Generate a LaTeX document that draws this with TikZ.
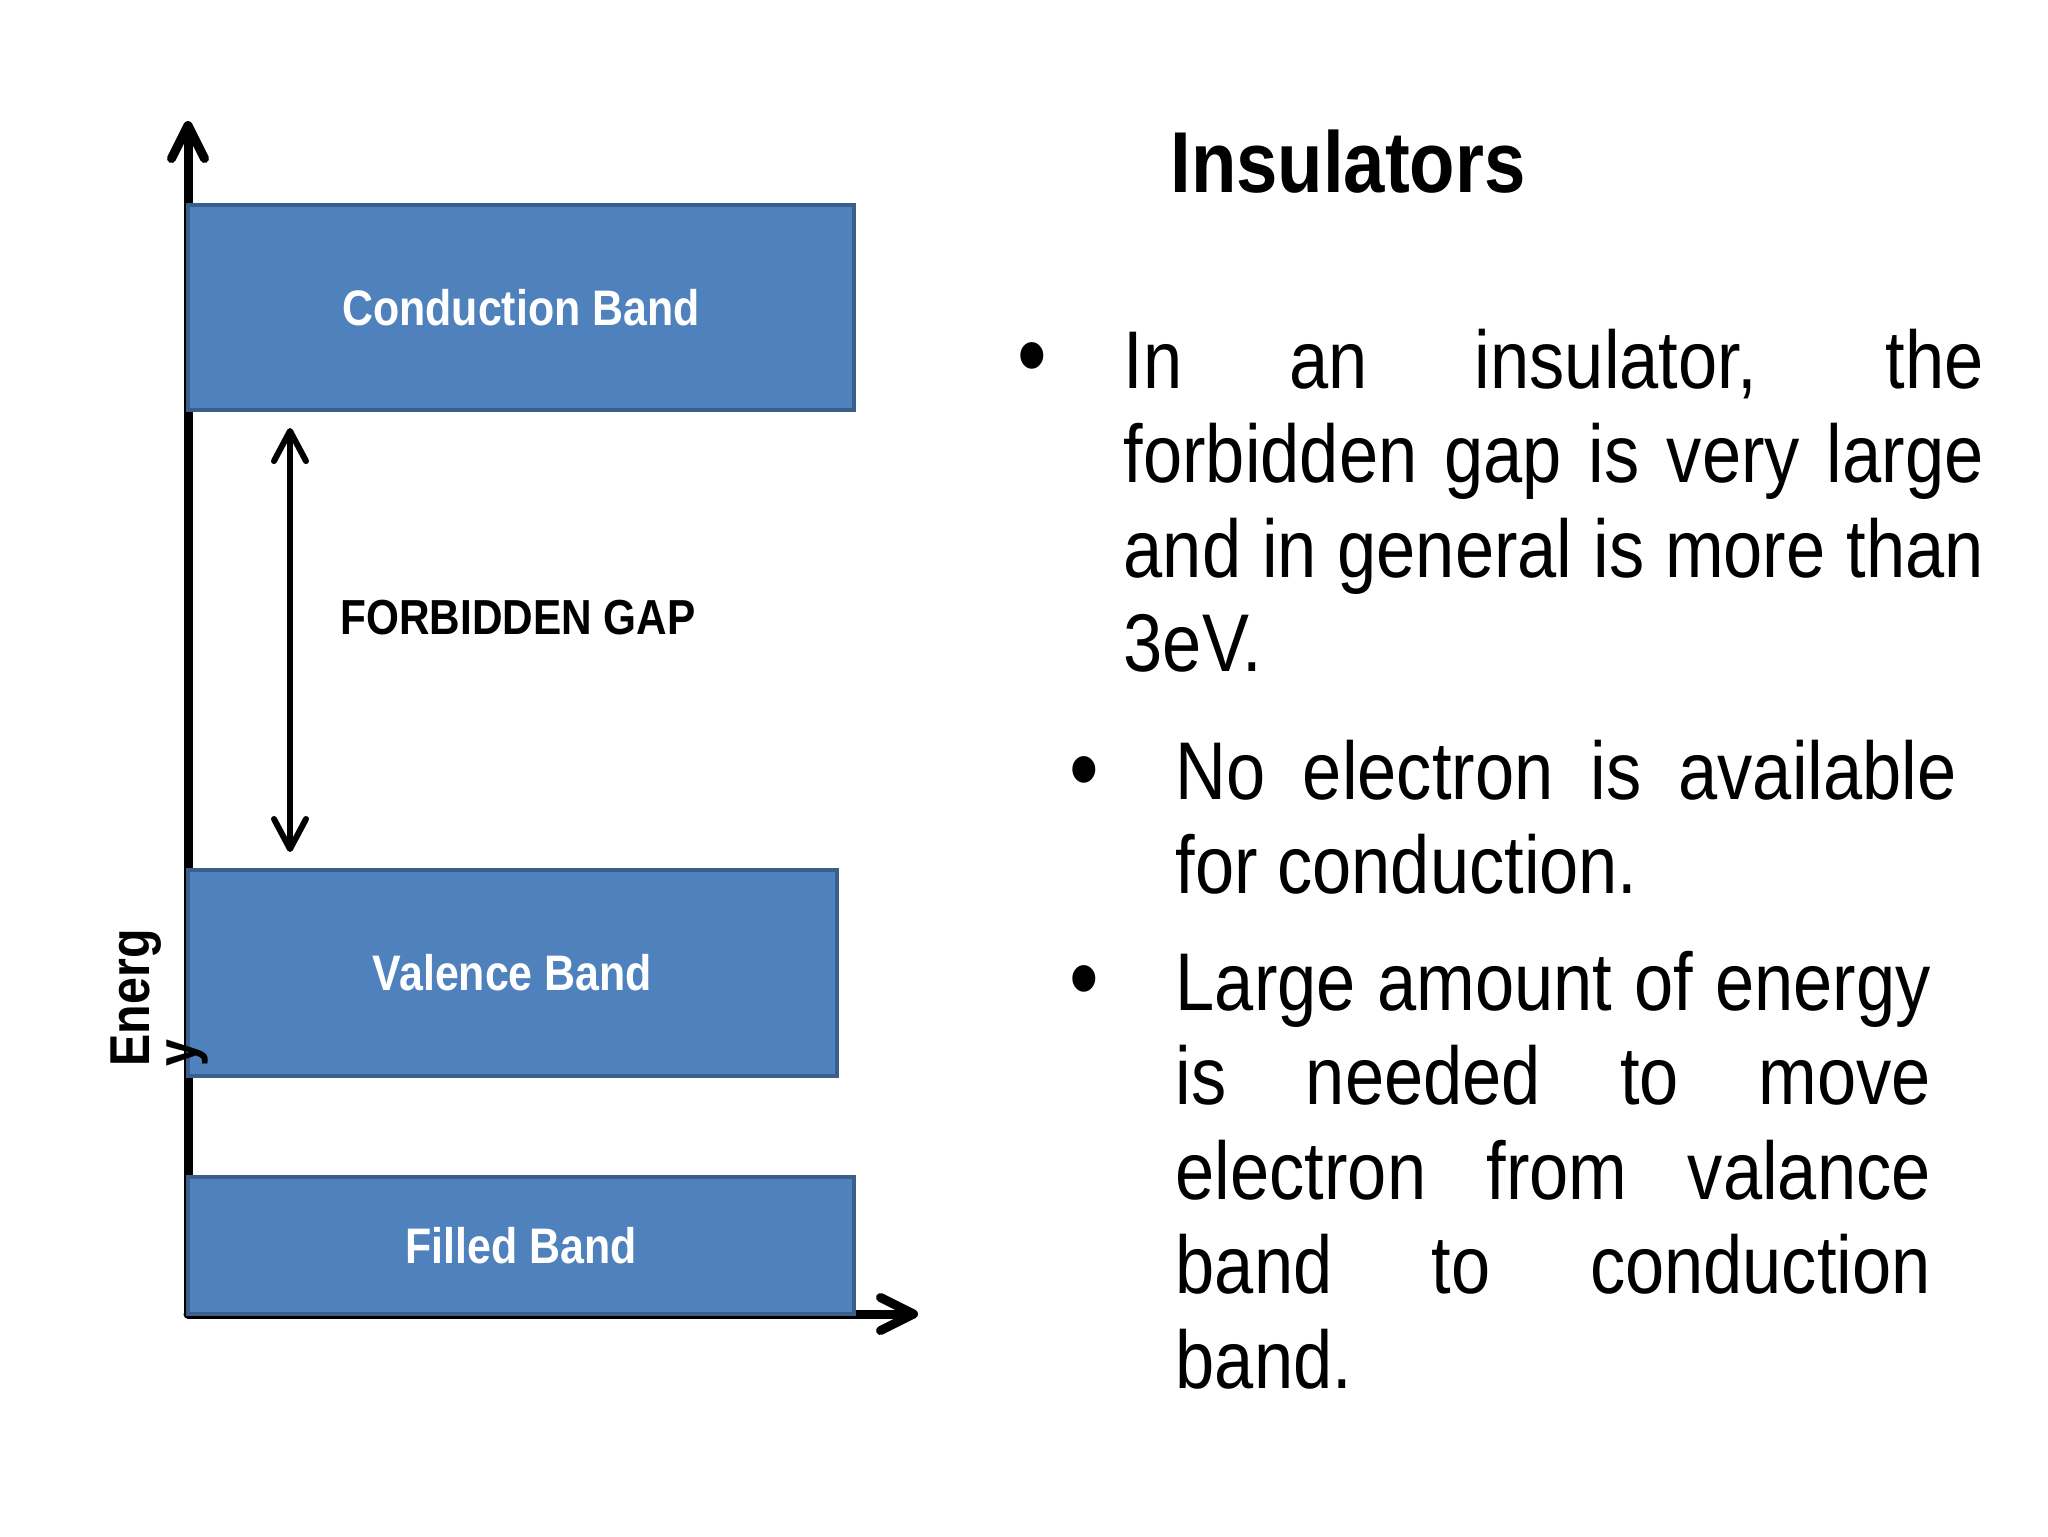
\documentclass[tikz,border=0pt]{standalone}
\usepackage{fontspec}
\setmainfont{Liberation Sans}[FakeStretch=0.86]
\usetikzlibrary{arrows.meta,positioning}
\definecolor{band}{HTML}{4F81BD}
\definecolor{bandedge}{HTML}{3A5F8C}
\tikzset{
  >={Straight Barb[length=3.3mm,width=3.3mm,round]},
  bandbox/.style={draw=bandedge,fill=band,line width=0.4mm,inner sep=0pt,
    font=\fontsize{14.2}{16}\selectfont\bfseries,text=white},
  axis/.style={->,line width=0.9mm,line cap=round},
  gaparr/.style={<->,line width=0.6mm,>={Straight Barb[length=3mm,width=3.2mm,round]}},
  elabel/.style={rotate=90,anchor=base west,inner sep=0pt,font=\fontsize{16}{18}\selectfont\bfseries},
  body/.style={anchor=base west,inner sep=0pt,align=justify,font=\fontsize{23.3}{26.9}\selectfont},
  dot/.style={inner sep=0pt,font=\fontsize{28}{30}\selectfont},
}
\begin{document}
\begin{tikzpicture}[x=0.1mm,y=0.1mm]
\useasboundingbox (0,0) rectangle (2048,-1536);
% energy axes
\coordinate (O) at (188,-1314);
\coordinate (ytip) at (188,-121);
\coordinate (xtip) at (918,-1314);
\draw[axis] (O) -- (ytip);
\draw[axis] (O) -- (xtip);
% bands
\node[bandbox,minimum width=66.6mm,minimum height=20.5mm] (cb) at (521,-307.5) {Conduction Band};
\node[bandbox,minimum width=64.9mm,minimum height=20.6mm] (vb) at (512.5,-973) {Valence Band};
\node[bandbox,minimum width=66.6mm,minimum height=13.7mm] (fb) at (521,-1245.5) {Filled Band};
% gap
\coordinate (gt) at (290,-428);
\coordinate (gb) at (290,-852);
\draw[gaparr] (gt) -- (gb);
\node[font=\fontsize{14}{16}\selectfont\bfseries] (gap) at (518,-618) {FORBIDDEN GAP};
\node[elabel] (en) at (149,-1067) {Energ};
\node[elabel] (en2) at (196,-1067) {y};
% text side
\node[font=\fontsize{24.6}{28}\selectfont\bfseries] (ttl) at (1348,-162) {Insulators};
\node[dot] (d1) at (1032,-366) {\textbullet};
\node[body,text width=86mm] (t1) at (1123,-388) {In an insulator, the\linebreak forbidden gap is very large\linebreak and in general is more than\linebreak 3eV.};
\node[dot] (d2) at (1084,-780) {\textbullet};
\node[body,text width=78.1mm] (t2) at (1175,-799) {No electron is available\linebreak for conduction.};
\node[dot] (d3) at (1084,-989) {\textbullet};
\node[body,text width=75.5mm] (t3) at (1175,-1010) {Large amount of energy\linebreak is needed to move\linebreak electron from valance\linebreak band to conduction\linebreak band.};
\end{tikzpicture}
\end{document}
